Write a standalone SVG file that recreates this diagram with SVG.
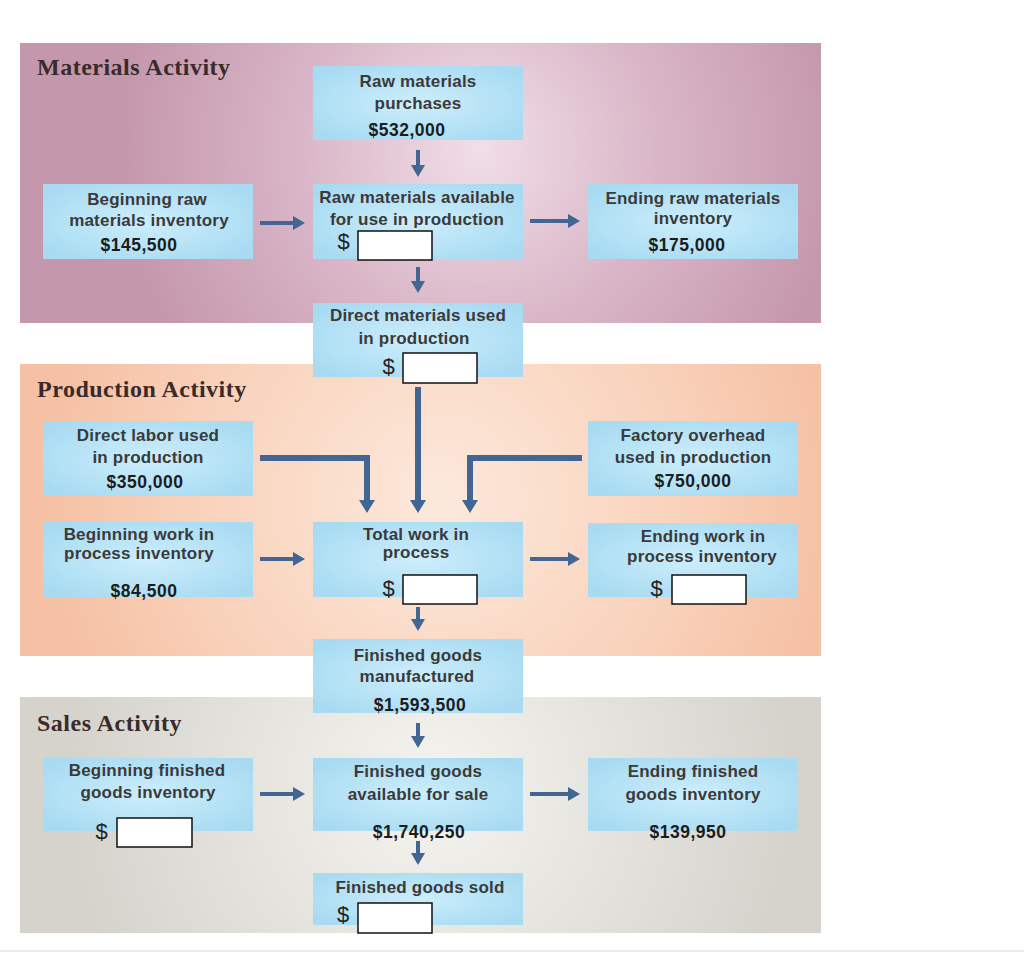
<svg xmlns="http://www.w3.org/2000/svg" width="1024" height="958" viewBox="0 0 1024 958">
<defs>
<radialGradient id="gMat" gradientUnits="userSpaceOnUse" cx="480" cy="150" r="360">
<stop offset="0" stop-color="#f1dee7"/><stop offset="0.5" stop-color="#d9b6c7"/><stop offset="1" stop-color="#c597ad"/>
</radialGradient>
<radialGradient id="gProd" gradientUnits="userSpaceOnUse" cx="440" cy="500" r="400">
<stop offset="0" stop-color="#fce9dc"/><stop offset="0.6" stop-color="#f9d2bb"/><stop offset="1" stop-color="#f5c0a3"/>
</radialGradient>
<radialGradient id="gSales" gradientUnits="userSpaceOnUse" cx="430" cy="790" r="360">
<stop offset="0" stop-color="#f5f4f0"/><stop offset="1" stop-color="#d5d3cc"/>
</radialGradient>
<radialGradient id="gBox" cx="0.5" cy="0.5" r="0.6">
<stop offset="0" stop-color="#cdeefb"/><stop offset="1" stop-color="#a8dbf2"/>
</radialGradient>
<marker id="ah" markerUnits="userSpaceOnUse" viewBox="0 0 12 14" markerWidth="12" markerHeight="14" refX="4" refY="7" orient="auto">
<path d="M0,0 L12,7 L0,14 z" fill="#416693"/>
</marker>
<marker id="ahb" markerUnits="userSpaceOnUse" viewBox="0 0 13 16" markerWidth="13" markerHeight="16" refX="4" refY="8" orient="auto">
<path d="M0,0 L13,8 L0,16 z" fill="#416693"/>
</marker>
</defs>
<style>
.box{fill:url(#gBox)}
.h{font-family:"Liberation Serif","Times New Roman",serif;font-weight:bold;font-size:24px;letter-spacing:0.5px;fill:#3a2b2b}
.t{font-family:"Liberation Sans",Arial,sans-serif;font-weight:bold;font-size:17px;letter-spacing:0.2px;fill:#3a3a3a;text-anchor:middle}
.a{font-family:"Liberation Sans",Arial,sans-serif;font-weight:bold;font-size:17.5px;letter-spacing:0.5px;fill:#1c1c1c;text-anchor:middle}
.d{font-family:"Liberation Sans",Arial,sans-serif;font-size:22px;fill:#222;text-anchor:middle}
.in{fill:#fff;stroke:#111;stroke-width:1.5}
.c{fill:none;stroke:#416693;stroke-width:4;marker-end:url(#ah)}
.cb{fill:none;stroke:#416693;stroke-width:6;marker-end:url(#ahb)}
</style>
<rect width="1024" height="958" fill="#fff"/>
<g id="panels">
<rect x="20" y="43" width="801" height="280" fill="url(#gMat)"/>
<rect x="20" y="364" width="801" height="292" fill="url(#gProd)"/>
<rect x="20" y="697" width="801" height="236" fill="url(#gSales)"/>
<line x1="0" y1="951" x2="1024" y2="951" stroke="#e6e6e6" stroke-width="1.5"/>
<text class="h" x="37" y="75">Materials Activity</text>
<text class="h" x="37" y="397">Production Activity</text>
<text class="h" x="37" y="731">Sales Activity</text>
</g>
<g id="connectors">
<line class="c" x1="418" y1="150" x2="418" y2="169"/>
<line class="c" x1="418" y1="267" x2="418" y2="285"/>
<line class="cb" x1="418" y1="387" x2="418" y2="504"/>
<path class="cb" d="M260,458 H367 V504"/>
<path class="cb" d="M582,458 H470 V504"/>
<line class="c" x1="418" y1="607" x2="418" y2="623"/>
<line class="c" x1="418" y1="723" x2="418" y2="740"/>
<line class="c" x1="418" y1="841" x2="418" y2="857"/>
<line class="c" x1="260" y1="223" x2="297" y2="223"/>
<line class="c" x1="530" y1="221" x2="572" y2="221"/>
<line class="c" x1="260" y1="559" x2="297" y2="559"/>
<line class="c" x1="530" y1="559" x2="572" y2="559"/>
<line class="c" x1="260" y1="794" x2="297" y2="794"/>
<line class="c" x1="530" y1="794" x2="572" y2="794"/>
</g>
<g id="rm-purchases">
<rect class="box" x="313" y="66" width="210" height="74"/>
<text class="t" x="418" y="87">Raw materials</text>
<text class="t" x="418" y="109">purchases</text>
<text class="a" x="407" y="136">$532,000</text>
</g>
<g id="beg-rm">
<rect class="box" x="43" y="184" width="210" height="75"/>
<text class="t" x="147" y="205">Beginning raw</text>
<text class="t" x="149" y="226">materials inventory</text>
<text class="a" x="139" y="251">$145,500</text>
</g>
<g id="rm-available">
<rect class="box" x="313" y="184" width="210" height="75"/>
<text class="t" x="417" y="203">Raw materials available</text>
<text class="t" x="417" y="225">for use in production</text>
<text class="d" x="343.5" y="249">$</text>
<rect class="in" x="358" y="231" width="74" height="29"/>
</g>
<g id="end-rm">
<rect class="box" x="588" y="184" width="210" height="75"/>
<text class="t" x="693" y="204">Ending raw materials</text>
<text class="t" x="693" y="224">inventory</text>
<text class="a" x="687" y="251">$175,000</text>
</g>
<g id="dm-used">
<rect class="box" x="313" y="303" width="210" height="74"/>
<text class="t" x="418" y="321">Direct materials used</text>
<text class="t" x="414" y="344">in production</text>
<text class="d" x="388.5" y="374">$</text>
<rect class="in" x="403" y="353" width="74" height="30"/>
</g>
<g id="dl-used">
<rect class="box" x="43" y="421" width="210" height="75"/>
<text class="t" x="148" y="441">Direct labor used</text>
<text class="t" x="148" y="463">in production</text>
<text class="a" x="145" y="488">$350,000</text>
</g>
<g id="foh-used">
<rect class="box" x="588" y="421" width="210" height="75"/>
<text class="t" x="693" y="441">Factory overhead</text>
<text class="t" x="693" y="463">used in production</text>
<text class="a" x="693" y="487">$750,000</text>
</g>
<g id="beg-wip">
<rect class="box" x="43" y="522" width="210" height="75"/>
<text class="t" x="139" y="540">Beginning work in</text>
<text class="t" x="139" y="559">process inventory</text>
<text class="a" x="144" y="597">$84,500</text>
</g>
<g id="total-wip">
<rect class="box" x="313" y="522" width="210" height="75"/>
<text class="t" x="416" y="540">Total work in</text>
<text class="t" x="416" y="558">process</text>
<text class="d" x="388.5" y="596">$</text>
<rect class="in" x="403" y="575" width="74" height="29"/>
</g>
<g id="end-wip">
<rect class="box" x="588" y="523" width="210" height="74"/>
<text class="t" x="703" y="542">Ending work in</text>
<text class="t" x="702" y="562">process inventory</text>
<text class="d" x="656.5" y="596">$</text>
<rect class="in" x="672" y="575" width="74" height="29"/>
</g>
<g id="fg-manufactured">
<rect class="box" x="313" y="639" width="210" height="74"/>
<text class="t" x="418" y="661">Finished goods</text>
<text class="t" x="417" y="682">manufactured</text>
<text class="a" x="420" y="711">$1,593,500</text>
</g>
<g id="beg-fg">
<rect class="box" x="43" y="758" width="210" height="73"/>
<text class="t" x="147" y="776">Beginning finished</text>
<text class="t" x="148" y="798">goods inventory</text>
<text class="d" x="101.5" y="839">$</text>
<rect class="in" x="117" y="818" width="75" height="29"/>
</g>
<g id="fg-available">
<rect class="box" x="313" y="758" width="210" height="73"/>
<text class="t" x="418" y="777">Finished goods</text>
<text class="t" x="418" y="800">available for sale</text>
<text class="a" x="419" y="838">$1,740,250</text>
</g>
<g id="end-fg">
<rect class="box" x="588" y="758" width="210" height="73"/>
<text class="t" x="693" y="777">Ending finished</text>
<text class="t" x="693" y="800">goods inventory</text>
<text class="a" x="688" y="838">$139,950</text>
</g>
<g id="fg-sold">
<rect class="box" x="313" y="873" width="210" height="52"/>
<text class="t" x="420" y="893">Finished goods sold</text>
<text class="d" x="343" y="922">$</text>
<rect class="in" x="358" y="903" width="74" height="30"/>
</g>
</svg>
